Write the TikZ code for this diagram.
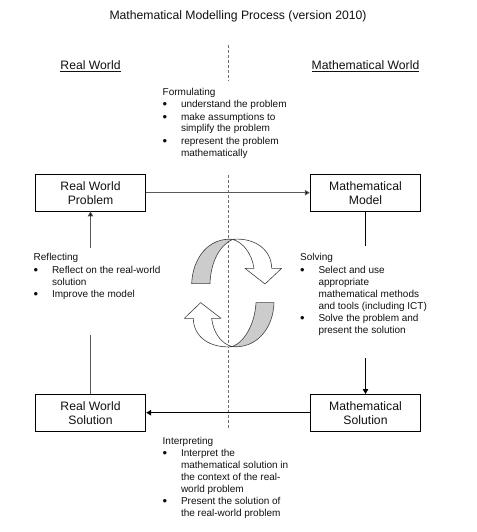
\documentclass[tikz,border=0pt]{standalone}
\usepackage{fontspec}
\setmainfont{Liberation Sans}
\usetikzlibrary{arrows.meta}
\definecolor{txt}{HTML}{111111}
\tikzset{
  x=1pt,y=1pt,
  stagebox/.style={draw=black,line width=0.9pt,minimum width=110.5pt,minimum height=36.5pt,inner sep=0pt,align=center,font=\fontsize{12.2}{14}\selectfont,text=txt},
  conn/.style={line width=0.9pt,draw=#1},
  conn/.default=black,
  tip/.style={-{Triangle[length=5pt,width=5.5pt,fill=black]}},
  divider/.style={draw=gray!85!black,line width=0.7pt,dash pattern=on 3pt off 2pt},
  heading/.style={anchor=base,font=\fontsize{12.2}{12}\selectfont,text=txt,inner sep=0pt},
  notes/.style={anchor=north west,inner sep=0pt,align=left,font=\fontsize{10}{12}\selectfont,text=txt},
  tightnotes/.style={notes,font=\fontsize{10}{11.2}\selectfont},
  swirl/.style={draw=black!75,line width=0.6pt,line join=round},
}
\newcommand{\bul}[1]{\makebox[18.3pt][l]{\hspace{-0.2pt}\raisebox{-0.6pt}{\fontsize{13}{12}\selectfont\textbullet}}#1}
\newcommand{\ind}[1]{\hspace{18.3pt}#1}
\begin{document}
\begin{tikzpicture}
\useasboundingbox (0,0) rectangle (476,-532);
\fill[white] (0,0) rectangle (476,-532);
% dividers
\coordinate (d1) at (228.3,-45);
\coordinate (d2) at (228.3,-81);
\coordinate (d3) at (228.3,-175);
\coordinate (d4) at (228.3,-430);
\draw[divider] (d1) -- (d2);
\draw[divider] (d3) -- (d4);
% title and headings
\node[heading] (title) at (238,-20) {Mathematical Modelling Process (version 2010)};
\node[heading] (rw) at (90.5,-70) {\underline{Real World}};
\node[heading] (mw) at (365.5,-70) {\underline{Mathematical World}};
% boxes
\node[stagebox] (rwp) at (90.5,-192.7) {Real World\\Problem};
\node[stagebox] (mm) at (365.5,-192.7) {Mathematical\\Model};
\node[stagebox] (rws) at (90.5,-412.7) {Real World\\Solution};
\node[stagebox] (ms) at (365.5,-412.7) {Mathematical\\Solution};
% free ends
\coordinate (a1) at (90.5,-248);
\coordinate (a2) at (90.5,-335);
\coordinate (b1) at (365.5,-246);
\coordinate (b2) at (365.5,-358);
% connectors
\draw[conn=black!65,tip] (rwp) -- (mm);
\draw[conn,tip] (ms) -- (rws);
\draw[conn=black!65,tip] (a1) -- (rwp);
\draw[conn=black!65] (rws) -- (a2);
\draw[conn] (mm) -- (b1);
\draw[conn,tip] (b2) -- (ms);
% notes
\node[tightnotes] (formulating) at (162.5,-88.3) {Formulating\\[0.8pt]
\bul{understand the problem}\\[1.8pt]
\bul{make assumptions to}\\
\ind{simplify the problem}\\[1.8pt]
\bul{represent the problem}\\
\ind{mathematically}};
\node[notes] (reflecting) at (33.5,-253) {Reflecting\\[1pt]
\bul{Reflect on the real-world}\\
\ind{solution}\\
\bul{Improve the model}};
\node[notes] (solving) at (300,-253) {Solving\\[1pt]
\bul{Select and use}\\
\ind{appropriate}\\
\ind{mathematical methods}\\
\ind{and tools (including ICT)}\\
\bul{Solve the problem and}\\
\ind{present the solution}};
\node[notes] (interpreting) at (162.5,-437) {Interpreting\\[0.5pt]
\bul{Interpret the}\\
\ind{mathematical solution in}\\
\ind{the context of the real-}\\
\ind{world problem}\\
\bul{Present the solution of}\\
\ind{the real-world problem}};
% swirl arrows (zoom-crop coordinates)
\begin{scope}[shift={(170,-220)},x=0.3333pt,y=-0.3333pt]
\path[swirl,fill=white] (188,58) .. controls (255,52) and (305,90) .. (305,145)
  -- (335,145) -- (285,192) -- (225,145) -- (252,145)
  .. controls (245,100) and (220,68) .. (188,58) -- cycle;
\path[swirl,fill=black!20] (188,58) .. controls (150,75) and (122,125) .. (120,191)
  -- (65,191) .. controls (68,115) and (115,52) .. (188,58) -- cycle;
\path[swirl,fill=white] (187,380) .. controls (120,386) and (70,350) .. (70,295)
  -- (43,295) -- (92,248) -- (153,295) -- (125,295)
  .. controls (130,340) and (155,372) .. (187,380) -- cycle;
\path[swirl,fill=black!20] (187,380) .. controls (225,365) and (255,310) .. (258,248)
  -- (312,248) .. controls (310,325) and (260,386) .. (187,380) -- cycle;
\end{scope}
\end{tikzpicture}
\end{document}
